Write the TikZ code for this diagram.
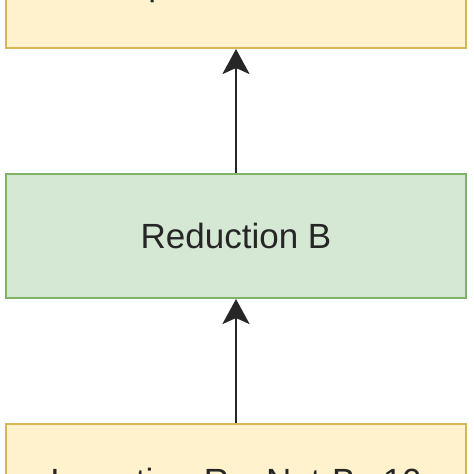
\documentclass[tikz,border=0pt]{standalone}
\usepackage{fontspec}
\setmainfont{Liberation Sans}
\usetikzlibrary{arrows.meta,positioning}
\definecolor{yellowfill}{HTML}{FFF2CC}
\definecolor{yellowline}{HTML}{D6B656}
\definecolor{greenfill}{HTML}{D5E8D4}
\definecolor{greenline}{HTML}{82B366}

\begin{document}
\begin{tikzpicture}[x = 1pt, y = -1pt,
	block/.style = {draw, line width = 2pt, minimum width = 460pt, minimum height = 124pt,
		inner sep = 0pt, font = \fontsize{35}{42}\selectfont, text = black!85},
	yblock/.style = {block, fill = yellowfill, draw = yellowline},
	gblock/.style = {block, fill = greenfill, draw = greenline},
	flow/.style = {-{Stealth[length = 25pt, width = 27pt, inset = 6pt]}, line width = 2.8pt, black!85},
	node distance = 124pt]
\useasboundingbox (0,0) rectangle (474,474);
\clip (0,0) rectangle (474,474);
\node [gblock] (redB) at (236, 236) {Reduction B};
\node [yblock, above = of redB] (incC) {Inception-ResNet-C};
\node [yblock, below = of redB, minimum height = 120pt] (incB) {Inception-ResNet-B x10};
\draw [flow] (incB) -- (redB);
\draw [flow] (redB) -- (incC);
\end{tikzpicture}
\end{document}
